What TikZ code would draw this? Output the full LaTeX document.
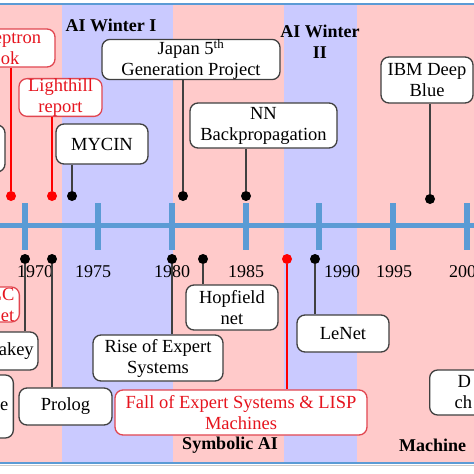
\documentclass[tikz,border=0pt]{standalone}
\usepackage{fontspec}
\setmainfont{Liberation Serif}
\definecolor{bandpink}{RGB}{255,202,202}
\definecolor{bandlav}{RGB}{202,202,255}
\definecolor{axisblue}{RGB}{91,155,213}
\definecolor{boxgray}{RGB}{64,64,64}
\definecolor{ered}{RGB}{230,20,30}
\definecolor{bred}{RGB}{225,70,80}
\tikzset{
  ebox/.style={draw=boxgray, line width=1.3pt, rounded corners=8pt, fill=white,
    align=center, inner sep=0pt, font=\fontsize{18.5}{21}\selectfont, text=black},
  rbox/.style={ebox, draw=bred, text=ered},
  dotb/.style={circle, fill=black, inner sep=0pt, minimum size=10pt},
  dotr/.style={circle, fill=red, inner sep=0pt, minimum size=10pt},
  conn/.style={draw=boxgray, line width=1.2pt},
  rconn/.style={draw=red, line width=1.2pt},
  yr/.style={font=\fontsize{18}{21}\selectfont, inner sep=0pt},
  hdr/.style={font=\fontsize{18}{21}\selectfont\bfseries, inner sep=0pt, align=center},
  tick/.style={draw=axisblue, line width=6pt}
}
\begin{document}
\begin{tikzpicture}[x=1pt,y=-1pt]
\useasboundingbox (0,0) rectangle (474,474);
\clip (0,0) rectangle (474,474);
\fill[white] (0,0) rectangle (474,474);
% bands
\fill[bandpink] (0,5) rectangle (62,462);
\fill[bandlav] (62,5) rectangle (173,462);
\fill[bandpink] (173,5) rectangle (284,462);
\fill[bandlav] (284,5) rectangle (357,462);
\fill[bandpink] (357,5) rectangle (474,462);
\draw[axisblue, line width=2pt] (0,4) -- (474,4);
\draw[axisblue, line width=2.5pt] (0,463) -- (474,463);
\draw[gray!40, line width=1pt] (0,465.5) -- (474,465.5);
% axis
\coordinate (axL) at (0,225);
\coordinate (axR) at (474,225);
\draw[axisblue, line width=5pt] (axL) -- (axR);
\foreach \x in {25,98,172,246,319,393,467} {
  \draw[tick] (\x,203) -- (\x,250);
}
% year labels
\node[yr] (y1970) at (35,272) {1970};
\node[yr] (y1975) at (93,272) {1975};
\node[yr] (y1980) at (172,272) {1980};
\node[yr] (y1985) at (246,272) {1985};
\node[yr] (y1990) at (342,272) {1990};
\node[yr] (y1995) at (394,272) {1995};
\node[yr, anchor=west] (y2000) at (449,272) {2000};
% headers
\node[hdr] (w1) at (111,25) {AI Winter I};
\node[hdr] (w2) at (320,42) {AI Winter\\II};
\node[hdr] (sym) at (230,445) {Symbolic AI};
\node[hdr, anchor=west] (ml) at (399,445) {Machine};
% top boxes
\node[rbox, minimum width=108pt, minimum height=38pt] (perc) at (1,48) {Perceptron\\book};
\node[rbox, minimum width=83pt, minimum height=37pt] (light) at (60.5,97.5) {Lighthill\\report};
\node[ebox, minimum width=92pt, minimum height=40pt] (mycin) at (102,144) {MYCIN};
\node[ebox, minimum width=80pt, minimum height=47pt] (lefttop) at (-35,148.5) {};
\node[ebox, minimum width=178pt, minimum height=37pt] (japan) at (191,59.5) {Japan 5\textsuperscript{th}\\Generation Project};
\node[ebox, minimum width=147pt, minimum height=45pt] (nn) at (263.5,125.5) {NN\\Backpropagation};
\node[ebox, minimum width=92pt, minimum height=46pt] (ibm) at (427,80) {IBM Deep\\Blue};
% top dots
\node[dotr] (d1) at (11,196) {};
\node[dotr] (d2) at (52,196) {};
\node[dotb] (d3) at (72,196) {};
\node[dotb] (d4) at (183,196) {};
\node[dotb] (d5) at (246,196) {};
\node[dotb] (d6) at (430,199) {};
\draw[rconn] (perc.south -| d1) -- (d1);
\draw[rconn] (light.south -| d2) -- (d2);
\draw[conn] (mycin.south -| d3) -- (d3);
\draw[conn] (japan.south -| d4) -- (d4);
\draw[conn] (nn.south -| d5) -- (d5);
\draw[conn] (ibm.south -| d6) -- (d6);
% bottom boxes
\node[rbox, minimum height=35pt, text width=70pt, align=right, inner xsep=5pt, anchor=east] (alc) at (20,304.5) {LC\\et};
\node[ebox, minimum width=63pt, minimum height=38pt] (shakey) at (6.5,351) {Shakey};
\node[ebox, minimum height=63pt, text width=70pt, align=right, inner xsep=5pt, anchor=east] (lowleft) at (14,406.5) {e};
\node[ebox, minimum width=93pt, minimum height=37pt] (prolog) at (65.5,406.5) {Prolog};
\node[ebox, minimum width=130pt, minimum height=46pt] (rise) at (158,358) {Rise of Expert\\Systems};
\node[ebox, minimum width=92pt, minimum height=45pt] (hop) at (232,307.5) {Hopfield\\net};
\node[rbox, minimum width=252pt, minimum height=45pt] (fall) at (241,412.5) {Fall of Expert Systems \& LISP\\Machines};
\node[ebox, minimum width=92pt, minimum height=37pt] (lenet) at (343,333.5) {LeNet};
\node[ebox, minimum height=45pt, text width=70pt, align=left, inner xsep=25pt, anchor=west] (dch) at (429,392.5) {\hspace*{3pt}D\\ch};
% bottom dots
\node[dotb] (b1) at (25,259) {};
\node[dotb] (b2) at (52,259) {};
\node[dotb] (b3) at (172,259) {};
\node[dotb] (b4) at (203,259) {};
\node[dotr] (b5) at (287,259) {};
\node[dotb] (b6) at (315,259) {};
\draw[conn] (b1) -- (b1 |- shakey.north);
\draw[conn] (b2) -- (b2 |- prolog.north);
\draw[conn] (b3) -- (b3 |- rise.north);
\draw[conn] (b4) -- (b4 |- hop.north);
\draw[rconn] (b5) -- (b5 |- fall.north);
\draw[conn] (b6) -- (b6 |- lenet.north);
\end{tikzpicture}
\end{document}
